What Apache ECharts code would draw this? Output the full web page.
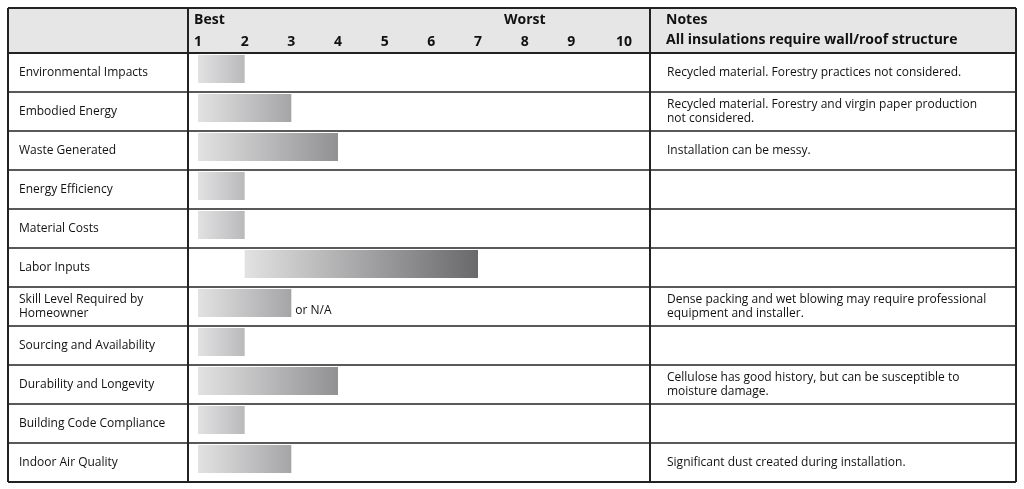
<!DOCTYPE html>
<html>
<head>
<meta charset="utf-8">
<script src="https://cdn.jsdelivr.net/npm/echarts@6/dist/echarts.min.js"></script>
<style>html,body{margin:0;padding:0;background:#fff}#chart{width:1024px;height:489px}</style>
</head>
<body>
<div id="chart"></div>
<script>
const categories = ['Environmental Impacts', 'Embodied Energy', 'Waste Generated', 'Energy Efficiency',
  'Material Costs', 'Labor Inputs', 'Skill Level Required by\nHomeowner', 'Sourcing and Availability',
  'Durability and Longevity', 'Building Code Compliance', 'Indoor Air Quality'];
const barStart = [1, 1, 1, 1, 1, 2, 1, 1, 1, 1, 1];
const barEnd = [2, 3, 4, 2, 2, 7, 3, 2, 4, 2, 3];
const barNotes = ['', '', '', '', '', '', 'or N/A', '', '', '', ''];
const notes = [
  'Recycled material. Forestry practices not considered.',
  'Recycled material. Forestry and virgin paper production\nnot considered.',
  'Installation can be messy.', '', '', '',
  'Dense packing and wet blowing may require professional\nequipment and installer.',
  '',
  'Cellulose has good history, but can be susceptible to\nmoisture damage.',
  '',
  'Significant dust created during installation.'
];
const scaleTicks = [1, 2, 3, 4, 5, 6, 7, 8, 9, 10];

const chart = echarts.init(document.getElementById('chart'));
const FONT = 'Open Sans';
const L = 8, R = 1016, T = 8, HB = 53, B = 482, C1 = 188, C2 = 650;
const rowH = (B - HB) / categories.length;

const lines = [];
const seg = (x1, y1, x2, y2, w) => lines.push({
  type: 'line', shape: { x1, y1, x2, y2 }, style: { stroke: '#222', lineWidth: w }, z: 10
});
for (let i = 0; i <= categories.length; i++) seg(L, HB + i * rowH, R, HB + i * rowH, i === 0 || i === categories.length ? 2 : 1.5);
seg(L, T, R, T, 2);
[L, C1, C2, R].forEach(x => seg(x, T, x, B, 2));

chart.setOption({
  animation: false,
  grid: { left: 198, width: 420, top: HB, bottom: 489 - B },
  xAxis: {
    type: 'value', min: 1, max: 10, interval: 1, position: 'top',
    axisLine: { show: false }, axisTick: { show: false }, splitLine: { show: false },
    axisLabel: { margin: 4, color: '#111', fontFamily: FONT, fontWeight: 'bold', fontSize: 14,
      formatter: v => !scaleTicks.includes(v) ? '' : (v === 10 ? '{t|10}' : String(v)),
      rich: { t: { padding: [0, 0, 0, 12], fontFamily: FONT, fontWeight: 'bold', fontSize: 14, color: '#111' } } }
  },
  yAxis: [{
    type: 'category', data: categories, inverse: true,
    axisLine: { show: false }, axisTick: { show: false },
    axisLabel: { align: 'left', margin: 179, color: '#111', fontFamily: FONT, fontSize: 12, lineHeight: 14 }
  }, {
    type: 'category', data: notes, inverse: true, position: 'right',
    axisLine: { show: false }, axisTick: { show: false },
    axisLabel: { align: 'left', margin: 49, color: '#111', fontFamily: FONT, fontSize: 12, lineHeight: 14 }
  }],
  graphic: [
    { type: 'rect', shape: { x: L, y: T, width: R - L, height: HB - T }, style: { fill: '#e6e6e6' }, z: -10 },
    { type: 'text', x: 194, y: 13, style: { text: 'Best', font: 'bold 14px ' + FONT, fill: '#111' } },
    { type: 'text', x: 504, y: 13, style: { text: 'Worst', font: 'bold 14px ' + FONT, fill: '#111' } },
    { type: 'text', x: 666, y: 13, style: { text: 'Notes', font: 'bold 14px ' + FONT, fill: '#111' } },
    { type: 'text', x: 666, y: 33, style: { text: 'All insulations require wall/roof structure', font: 'bold 14px ' + FONT, fill: '#111' } }
  ].concat(lines),
  series: [{
    type: 'custom',
    data: categories.map((c, i) => [i, barStart[i], barEnd[i]]),
    renderItem: (params, api) => {
      const row = api.value(0);
      const p0 = api.coord([api.value(1), row]);
      const p1 = api.coord([api.value(2), row]);
      const band = api.size([0, 1])[1];
      const top = p0[1] - band / 2 + 2;
      const h = band - 11;
      const g = Math.round(205 - 20 * (api.value(2) - api.value(1)));
      const end = `rgb(${g},${g},${g + 2})`;
      const children = [{
        type: 'rect', shape: { x: p0[0], y: top, width: p1[0] - p0[0], height: h },
        style: { fill: new echarts.graphic.LinearGradient(0, 0, 1, 0, [
          { offset: 0, color: '#e2e2e3' }, { offset: 1, color: end }]) }
      }];
      const note = barNotes[params.dataIndex];
      if (note) children.push({
        type: 'text', x: p1[0] + 4, y: top + h, style: {
          text: note, font: '12px ' + FONT, fill: '#111', textVerticalAlign: 'bottom' }
      });
      return { type: 'group', children };
    }
  }]
});
</script>
</body>
</html>
